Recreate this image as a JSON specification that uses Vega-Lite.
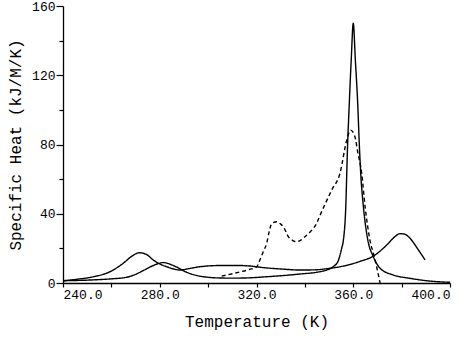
{
  "$schema": "https://vega.github.io/schema/vega-lite/v6.json",
  "width": 387,
  "height": 277,
  "autosize": "none",
  "padding": {"left": 63, "top": 6, "right": 24, "bottom": 68},
  "background": "white",
  "config": {
    "view": {"stroke": null},
    "axis": {
      "domainColor": "black",
      "tickColor": "black",
      "labelColor": "black",
      "titleColor": "black",
      "labelFont": "Liberation Mono",
      "titleFont": "Liberation Mono",
      "titleFontWeight": "normal",
      "grid": false,
      "domainWidth": 1.3,
      "tickWidth": 1.2
    }
  },
  "data": {
    "values": [
      {"series": "A", "T": 240, "C": 1.3},
      {"series": "A", "T": 246, "C": 2.2},
      {"series": "A", "T": 252.5, "C": 3.6},
      {"series": "A", "T": 259.4, "C": 6.5},
      {"series": "A", "T": 264.9, "C": 11.4},
      {"series": "A", "T": 268.5, "C": 15.5},
      {"series": "A", "T": 271.5, "C": 17.5},
      {"series": "A", "T": 274.5, "C": 16.5},
      {"series": "A", "T": 277.3, "C": 13.3},
      {"series": "A", "T": 280, "C": 11},
      {"series": "A", "T": 282.9, "C": 9.4},
      {"series": "A", "T": 286, "C": 8},
      {"series": "A", "T": 288.4, "C": 7.5},
      {"series": "A", "T": 292, "C": 8.3},
      {"series": "A", "T": 296.6, "C": 9.4},
      {"series": "A", "T": 304.9, "C": 10.1},
      {"series": "A", "T": 313.2, "C": 10.1},
      {"series": "A", "T": 317.3, "C": 9.8},
      {"series": "A", "T": 324.2, "C": 8.7},
      {"series": "A", "T": 331, "C": 8},
      {"series": "A", "T": 338, "C": 7.5},
      {"series": "A", "T": 344, "C": 7.6},
      {"series": "A", "T": 350.4, "C": 8.5},
      {"series": "A", "T": 356, "C": 9.8},
      {"series": "A", "T": 362.8, "C": 12.5},
      {"series": "A", "T": 368.3, "C": 15.5},
      {"series": "A", "T": 373.8, "C": 21.9},
      {"series": "A", "T": 377, "C": 26.5},
      {"series": "A", "T": 379.3, "C": 28.5},
      {"series": "A", "T": 381, "C": 28.3},
      {"series": "A", "T": 383.5, "C": 25.8},
      {"series": "A", "T": 386.5, "C": 20},
      {"series": "A", "T": 389.7, "C": 13.3},

      {"series": "B", "T": 240, "C": 1.3},
      {"series": "B", "T": 252.5, "C": 1.8},
      {"series": "B", "T": 260, "C": 2.4},
      {"series": "B", "T": 266.3, "C": 3.3},
      {"series": "B", "T": 270, "C": 5},
      {"series": "B", "T": 273.2, "C": 7.2},
      {"series": "B", "T": 277.3, "C": 10.1},
      {"series": "B", "T": 281.5, "C": 11.8},
      {"series": "B", "T": 285.6, "C": 10.1},
      {"series": "B", "T": 291.1, "C": 6.2},
      {"series": "B", "T": 295, "C": 4.4},
      {"series": "B", "T": 299.4, "C": 3.4},
      {"series": "B", "T": 305, "C": 2.9},
      {"series": "B", "T": 310, "C": 2.8},
      {"series": "B", "T": 317.3, "C": 3.0},
      {"series": "B", "T": 324, "C": 3.6},
      {"series": "B", "T": 331.1, "C": 4.3},
      {"series": "B", "T": 338, "C": 5.2},
      {"series": "B", "T": 344.9, "C": 6.2},
      {"series": "B", "T": 349, "C": 7.5},
      {"series": "B", "T": 351.8, "C": 9.5},
      {"series": "B", "T": 353.8, "C": 12.9},
      {"series": "B", "T": 355.2, "C": 20},
      {"series": "B", "T": 355.9, "C": 24.5},
      {"series": "B", "T": 356.9, "C": 43.7},
      {"series": "B", "T": 357.6, "C": 77},
      {"series": "B", "T": 358.4, "C": 105},
      {"series": "B", "T": 359.2, "C": 130},
      {"series": "B", "T": 360, "C": 150},
      {"series": "B", "T": 360.9, "C": 128},
      {"series": "B", "T": 361.8, "C": 105},
      {"series": "B", "T": 362.6, "C": 77},
      {"series": "B", "T": 363.1, "C": 63},
      {"series": "B", "T": 364.2, "C": 44},
      {"series": "B", "T": 366, "C": 25},
      {"series": "B", "T": 368.3, "C": 15.2},
      {"series": "B", "T": 371.1, "C": 8.5},
      {"series": "B", "T": 376.6, "C": 4.6},
      {"series": "B", "T": 383.5, "C": 2.7},
      {"series": "B", "T": 390.4, "C": 1.3},
      {"series": "B", "T": 400, "C": 0.4},

      {"series": "C", "T": 305.6, "C": 4.0},
      {"series": "C", "T": 312, "C": 6},
      {"series": "C", "T": 317, "C": 7.8},
      {"series": "C", "T": 320.1, "C": 9.4},
      {"series": "C", "T": 321.4, "C": 13.3},
      {"series": "C", "T": 322.8, "C": 18},
      {"series": "C", "T": 324.2, "C": 22.9},
      {"series": "C", "T": 325.3, "C": 30},
      {"series": "C", "T": 326.3, "C": 34.4},
      {"series": "C", "T": 328.4, "C": 35.4},
      {"series": "C", "T": 330, "C": 34},
      {"series": "C", "T": 331.1, "C": 32.5},
      {"series": "C", "T": 333.2, "C": 26.7},
      {"series": "C", "T": 335, "C": 24.5},
      {"series": "C", "T": 336.6, "C": 23.8},
      {"series": "C", "T": 338, "C": 24.5},
      {"series": "C", "T": 340, "C": 26.7},
      {"series": "C", "T": 342.5, "C": 30},
      {"series": "C", "T": 344.9, "C": 34.5},
      {"series": "C", "T": 346.3, "C": 39.2},
      {"series": "C", "T": 348.5, "C": 46},
      {"series": "C", "T": 351.1, "C": 53.7},
      {"series": "C", "T": 354.5, "C": 63.3},
      {"series": "C", "T": 357.3, "C": 82.5},
      {"series": "C", "T": 358.9, "C": 88.3},
      {"series": "C", "T": 360.7, "C": 84.5},
      {"series": "C", "T": 361.8, "C": 76},
      {"series": "C", "T": 363.5, "C": 63.3},
      {"series": "C", "T": 364.9, "C": 44},
      {"series": "C", "T": 366.9, "C": 24.8},
      {"series": "C", "T": 368.7, "C": 15.2},
      {"series": "C", "T": 371.1, "C": 0}
    ]
  },
  "mark": {"type": "line", "interpolate": "monotone", "strokeWidth": 1.4, "color": "black", "clip": true},
  "encoding": {
    "x": {
      "field": "T",
      "type": "quantitative",
      "scale": {"domain": [240, 400], "nice": false, "zero": false},
      "axis": {
        "title": "Temperature (K)",
        "values": [240, 260, 280, 300, 320, 340, 360, 380, 400],
        "labelExpr": "datum.value % 40 === 0 ? format(datum.value, '.1f') : ''",
        "labelOverlap": false,
        "labelFontSize": 13,
        "labelPadding": 1,
        "tickSize": 4,
        "titleFontSize": 16,
        "titlePadding": 12
      }
    },
    "y": {
      "field": "C",
      "type": "quantitative",
      "scale": {"domain": [0, 160], "nice": false},
      "axis": {
        "title": "Specific Heat (kJ/M/K)",
        "values": [0, 20, 40, 60, 80, 100, 120, 140, 160],
        "labelExpr": "datum.value % 40 === 0 ? format(datum.value, 'd') : ''",
        "labelOverlap": false,
        "labelFontSize": 13,
        "labelPadding": 1,
        "tickSize": {"condition": {"test": "datum.value % 40 === 0", "value": 7}, "value": 4},
        "titleFontSize": 16,
        "titlePadding": 8
      }
    },
    "detail": {"field": "series"},
    "strokeDash": {
      "field": "series",
      "type": "nominal",
      "scale": {"domain": ["A", "B", "C"], "range": [[1, 0], [1, 0], [4, 3]]},
      "legend": null
    }
  }
}
